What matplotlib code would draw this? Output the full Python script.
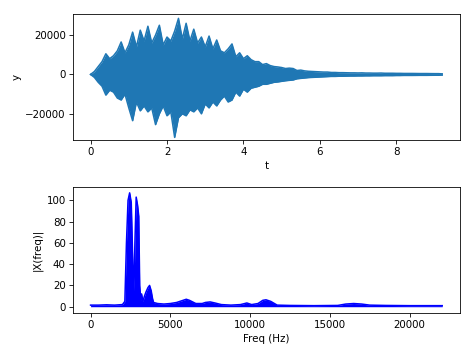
import numpy as np
import matplotlib
matplotlib.use('Agg')
import matplotlib.pyplot as plt

# waveform envelope, one value every 0.1 s (0 .. 9.2 s)
t_env = np.round(np.arange(93) * 0.1, 1)
y_upper = [0, 1500, 4000, 6500, 10500, 8000, 9500, 12000, 16500, 11000,
           15000, 21500, 14000, 22500, 17000, 24500, 16000, 20000, 25000, 15000,
           19000, 17000, 22000, 28500, 18000, 26000, 17000, 23000, 16000, 19000,
           14000, 19500, 13000, 17500, 12000, 11000, 13000, 15500, 9000, 11000,
           8000, 9500, 7500, 6500, 6500, 5000, 5500, 4500, 4000, 3800,
           3500, 3000, 3200, 3000, 2000, 2200, 1800, 1600, 1500, 1400,
           1300, 1200, 1200, 1000, 1000, 900, 900, 850, 800, 800,
           750, 800, 700, 700, 650, 650, 700, 600, 600, 600,
           550, 550, 500, 500, 500, 480, 450, 450, 450, 420,
           400, 400, 300]
y_lower = [0, -1500, -4000, -6000, -10500, -8000, -9000, -12000, -13000, -10000,
           -17000, -23500, -14000, -18500, -16000, -19000, -17000, -25500, -20000, -16000,
           -21000, -19000, -32000, -22000, -20000, -21000, -18000, -19000, -17000, -20000,
           -15000, -17000, -14000, -16000, -13000, -11000, -14000, -13000, -9000, -11000,
           -7500, -9000, -7000, -6500, -6000, -5000, -5000, -4500, -4000, -3800,
           -3500, -3200, -3000, -2800, -2200, -2000, -1800, -1600, -1500, -1400,
           -1300, -1200, -1100, -1000, -1000, -900, -900, -850, -800, -800,
           -750, -750, -700, -700, -650, -650, -650, -600, -600, -600,
           -550, -550, -500, -500, -500, -480, -450, -450, -450, -420,
           -400, -400, -300]

# spectrum magnitude
freq = [0, 500, 1000, 1500, 2000, 2150, 2250, 2350, 2450, 2550, 2650, 2720,
        2780, 2860, 2950, 3020, 3080, 3150, 3200, 3280, 3380, 3480, 3600,
        3700, 3800, 3880, 3950, 4200, 4600, 5000, 5400, 5800, 6000, 6200,
        6600, 7000, 7200, 7500, 7800, 8200, 8800, 9400, 9800, 10100, 10500,
        10800, 11000, 11300, 11700, 12500, 14000, 15500, 16000, 16500, 17000,
        17500, 18500, 20000, 22050]
mag = [1.5, 1.5, 1.8, 1.5, 2, 5, 60, 100, 107, 98, 40, 15,
       60, 103, 95, 85, 20, 6, 12, 5, 10, 14, 18,
       20, 15, 8, 4, 3, 2.5, 3, 4, 6, 7, 6,
       3, 3, 4, 4.5, 3.5, 2, 1.5, 2, 3.5, 2, 3,
       6, 6.5, 5, 1.5, 1.2, 1, 1.2, 2.5, 3, 2.5,
       1.5, 1.2, 1, 1]


def main():
    fig, (ax1, ax2) = plt.subplots(2, 1, figsize=(474 / 74, 355 / 74), dpi=74)
    fig.subplots_adjust(left=0.154, right=0.970, top=0.961, bottom=0.118,
                        hspace=0.373)

    # dense signal drawn as its envelope band
    ax1.fill_between(t_env, y_lower, y_upper, color='C0', lw=0)
    ax1.plot(t_env, y_upper, color='C0')
    ax1.plot(t_env, y_lower, color='C0')
    ax1.set_ylim(-33300, 30800)
    ax1.set_yticks([-20000, 0, 20000])
    ax1.set_xlabel('t'), ax1.set_ylabel('y')

    ax2.fill_between(freq, 0, mag, color='b', lw=0)
    ax2.plot(freq, mag, color='b')
    ax2.set_ylim(-6, 112.5)
    ax2.set_xlabel('Freq (Hz)'), ax2.set_ylabel('|X(freq)|')

    fig.savefig('out.png', dpi=74)


if __name__ == '__main__':
    main()
